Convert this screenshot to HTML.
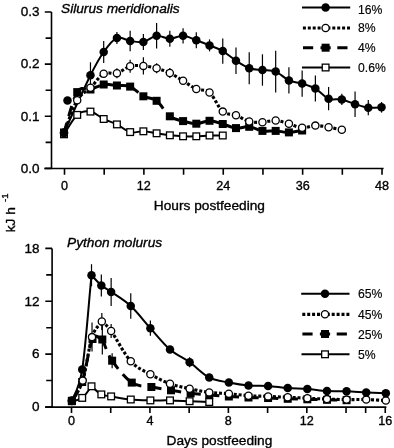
<!DOCTYPE html>
<html><head><meta charset="utf-8"><title>Figure</title><style>html,body{margin:0;padding:0;background:#fff;width:394px;height:448px;overflow:hidden}svg{display:block}</style></head><body>
<svg width="394" height="448" viewBox="0 0 394 448">
<style>text{font-family:"Liberation Sans", Arial, Helvetica, sans-serif;fill:#000;stroke:#000;stroke-width:0.35px}.ax{stroke:#000;stroke-width:1.6;fill:none;stroke-linecap:butt}.ln{stroke:#000;stroke-width:2.0;fill:none;stroke-linejoin:round}.dot{stroke:#000;stroke-width:3.1;fill:none;stroke-dasharray:3 1.9}.dash{stroke:#000;stroke-width:3.0;fill:none;stroke-dasharray:10.2 7}.err{stroke:#000;stroke-width:1.2}.fc{fill:#000}.oc{fill:#fff;stroke:#000;stroke-width:1.3}.fs{fill:#000}.os{fill:#fff;stroke:#000;stroke-width:1.3}</style>
<rect width="394" height="448" fill="#fff"/>
<path class="ax" d="M51.5 12 V168.55 M44.3 168.55 H383.6"/>
<path class="ax" d="M44.8 12.01 H51.5 M44.8 64.14 H51.5 M44.8 116.27 H51.5 M44.8 168.4 H51.5 M45.6 38.08 H51.5 M45.6 90.21 H51.5 M45.6 142.34 H51.5 M64.5 168.55 V174.65 M104.19 168.55 V174.65 M143.88 168.55 V174.65 M183.57 168.55 V174.65 M223.26 168.55 V174.65 M262.95 168.55 V174.65 M302.64 168.55 V174.65 M342.33 168.55 V174.65 M382.02 168.55 V174.65 "/>
<text x="39.6" y="16.31" text-anchor="end" font-size="13.5">0.3</text>
<text x="39.6" y="68.44" text-anchor="end" font-size="13.5">0.2</text>
<text x="39.6" y="120.57" text-anchor="end" font-size="13.5">0.1</text>
<text x="39.6" y="172.7" text-anchor="end" font-size="13.5">0.0</text>
<text x="64.5" y="189.8" text-anchor="middle" font-size="12.6">0</text>
<text x="143.88" y="189.8" text-anchor="middle" font-size="12.6">12</text>
<text x="223.26" y="189.8" text-anchor="middle" font-size="12.6">24</text>
<text x="302.64" y="189.8" text-anchor="middle" font-size="12.6">36</text>
<text x="382.02" y="189.8" text-anchor="middle" font-size="12.6">48</text>
<text x="209.4" y="210.4" text-anchor="middle" font-size="13.7">Hours postfeeding</text>
<text x="61" y="12.5" text-anchor="start" font-size="13.7" font-style="italic">Silurus meridionalis</text>
<path class="ln" d="M64 134.3 C66.2 131.07 72.82 118.68 77.23 114.9 C81.64 111.12 86.05 110.92 90.46 111.6 C94.87 112.28 99.28 116.87 103.69 119 C108.1 121.13 112.51 122.22 116.92 124.4 C121.33 126.58 125.74 130.95 130.15 132.1 C134.56 133.25 138.97 131.1 143.38 131.3 C147.79 131.5 152.2 132.63 156.61 133.3 C161.02 133.97 165.43 134.8 169.84 135.3 C174.25 135.8 178.66 136.13 183.07 136.3 C187.48 136.47 191.89 136.43 196.3 136.3 C200.71 136.17 205.12 135.63 209.53 135.5 C213.94 135.37 220.56 135.5 222.76 135.5"/>
<path class="dash" d="M64 132.5 C66.2 125.77 72.82 99.27 77.23 92.1"/>
<path class="dash" d="M77.23 92.1 C81.64 84.93 86.05 90.77 90.46 89.5"/>
<path class="dash" d="M90.46 89.5 C94.87 88.23 99.28 85.17 103.69 84.5"/>
<path class="dash" d="M103.69 84.5 C108.1 83.83 112.51 85.15 116.92 85.5"/>
<path class="dash" d="M116.92 85.5 C121.33 85.85 125.74 84.8 130.15 86.6"/>
<path class="dash" d="M130.15 86.6 C134.56 88.4 138.97 93.93 143.38 96.3"/>
<path class="dash" d="M143.38 96.3 C147.79 98.67 152.2 97.47 156.61 100.8"/>
<path class="dash" d="M156.61 100.8 C161.02 104.13 165.43 112.92 169.84 116.3"/>
<path class="dash" d="M169.84 116.3 C174.25 119.68 178.66 119.87 183.07 121.1"/>
<path class="dash" d="M183.07 121.1 C187.48 122.33 191.89 123.75 196.3 123.7"/>
<path class="dash" d="M196.3 123.7 C200.71 123.65 205.12 120.75 209.53 120.8"/>
<path class="dash" d="M209.53 120.8 C213.94 120.85 218.35 122.78 222.76 124"/>
<path class="dash" d="M222.76 124 C227.17 125.22 231.58 127.63 235.99 128.1"/>
<path class="dash" d="M235.99 128.1 C240.4 128.57 244.81 126.33 249.22 126.8"/>
<path class="dash" d="M249.22 126.8 C253.63 127.27 258.04 130.22 262.45 130.9"/>
<path class="dash" d="M262.45 130.9 C266.86 131.58 271.27 130.65 275.68 130.9"/>
<path class="dash" d="M275.68 130.9 C280.09 131.15 284.5 132.47 288.91 132.4"/>
<path class="dash" d="M288.91 132.4 C293.32 132.33 299.94 130.82 302.14 130.5"/>
<path class="dot" d="M64 133 C66.2 127.53 72.82 107.75 77.23 100.2"/>
<path class="dot" d="M77.23 100.2 C81.64 92.65 86.05 92.1 90.46 87.7"/>
<path class="dot" d="M90.46 87.7 C94.87 83.3 99.28 76.22 103.69 73.8"/>
<path class="dot" d="M103.69 73.8 C108.1 71.38 112.51 74.45 116.92 73.2"/>
<path class="dot" d="M116.92 73.2 C121.33 71.95 125.74 67.52 130.15 66.3"/>
<path class="dot" d="M130.15 66.3 C134.56 65.08 138.97 65.57 143.38 65.9"/>
<path class="dot" d="M143.38 65.9 C147.79 66.23 152.2 67.12 156.61 68.3"/>
<path class="dot" d="M156.61 68.3 C161.02 69.48 165.43 70.92 169.84 73"/>
<path class="dot" d="M169.84 73 C174.25 75.08 178.66 78.13 183.07 80.8"/>
<path class="dot" d="M183.07 80.8 C187.48 83.47 191.89 87.05 196.3 89"/>
<path class="dot" d="M196.3 89 C200.71 90.95 205.12 88.73 209.53 92.5"/>
<path class="dot" d="M209.53 92.5 C213.94 96.27 218.35 107.82 222.76 111.6"/>
<path class="dot" d="M222.76 111.6 C227.17 115.38 231.58 113.55 235.99 115.2"/>
<path class="dot" d="M235.99 115.2 C240.4 116.85 244.81 120.33 249.22 121.5"/>
<path class="dot" d="M249.22 121.5 C253.63 122.67 258.04 122.37 262.45 122.2"/>
<path class="dot" d="M262.45 122.2 C266.86 122.03 271.27 120.23 275.68 120.5"/>
<path class="dot" d="M275.68 120.5 C280.09 120.77 284.5 122.58 288.91 123.8"/>
<path class="dot" d="M288.91 123.8 C293.32 125.02 297.73 127.5 302.14 127.8"/>
<path class="dot" d="M302.14 127.8 C306.55 128.1 310.96 125.7 315.37 125.6"/>
<path class="dot" d="M315.37 125.6 C319.78 125.5 324.19 126.5 328.6 127.2"/>
<path class="dot" d="M328.6 127.2 C333.01 127.9 339.62 129.37 341.83 129.8"/>
<path class="ln" d="M64 132.5 C68.41 122.97 83.85 88.72 90.46 75.3 C97.08 61.88 99.28 58.23 103.69 52 C108.1 45.77 112.51 39.73 116.92 37.9 C121.33 36.07 125.74 40.33 130.15 41 C134.56 41.67 138.97 42.77 143.38 41.9 C147.79 41.03 152.2 36.33 156.61 35.8 C161.02 35.27 165.43 38.7 169.84 38.7 C174.25 38.7 178.66 35.53 183.07 35.8 C187.48 36.07 191.89 38.7 196.3 40.3 C200.71 41.9 205.12 43.6 209.53 45.4 C213.94 47.2 218.35 48.55 222.76 51.1 C227.17 53.65 231.58 57.85 235.99 60.7 C240.4 63.55 244.81 66.65 249.22 68.2 C253.63 69.75 258.04 69.43 262.45 70 C266.86 70.57 271.27 69.87 275.68 71.6 C280.09 73.33 284.5 78.4 288.91 80.4 C293.32 82.4 297.73 82.23 302.14 83.6 C306.55 84.97 310.96 86.08 315.37 88.6 C319.78 91.12 324.19 96.9 328.6 98.7 C333.01 100.5 337.42 98.48 341.83 99.4 C346.24 100.32 350.65 102.82 355.06 104.2 C359.47 105.58 363.88 107.18 368.29 107.7 C372.7 108.22 379.31 107.37 381.52 107.3"/>
<line class="err" x1="90.46" y1="62.3" x2="90.46" y2="88.3"/>
<line class="err" x1="103.69" y1="41" x2="103.69" y2="63"/>
<line class="err" x1="116.92" y1="31.9" x2="116.92" y2="43.9"/>
<line class="err" x1="130.15" y1="30.7" x2="130.15" y2="51.3"/>
<line class="err" x1="143.38" y1="33.9" x2="143.38" y2="49.9"/>
<line class="err" x1="156.61" y1="23.1" x2="156.61" y2="48.5"/>
<line class="err" x1="169.84" y1="30.7" x2="169.84" y2="46.7"/>
<line class="err" x1="183.07" y1="28.2" x2="183.07" y2="43.4"/>
<line class="err" x1="196.3" y1="32.3" x2="196.3" y2="48.3"/>
<line class="err" x1="209.53" y1="39.4" x2="209.53" y2="51.4"/>
<line class="err" x1="222.76" y1="38.4" x2="222.76" y2="63.8"/>
<line class="err" x1="235.99" y1="47.5" x2="235.99" y2="73.9"/>
<line class="err" x1="249.22" y1="52.2" x2="249.22" y2="84.2"/>
<line class="err" x1="262.45" y1="54.3" x2="262.45" y2="85.7"/>
<line class="err" x1="275.68" y1="50.8" x2="275.68" y2="92.4"/>
<line class="err" x1="288.91" y1="67.2" x2="288.91" y2="93.6"/>
<line class="err" x1="302.14" y1="70.4" x2="302.14" y2="96.8"/>
<line class="err" x1="315.37" y1="75.6" x2="315.37" y2="101.6"/>
<line class="err" x1="328.6" y1="87.1" x2="328.6" y2="110.3"/>
<line class="err" x1="341.83" y1="93.8" x2="341.83" y2="105"/>
<line class="err" x1="355.06" y1="91.4" x2="355.06" y2="117"/>
<line class="err" x1="368.29" y1="100.1" x2="368.29" y2="115.3"/>
<line class="err" x1="381.52" y1="102" x2="381.52" y2="112.6"/>
<line class="err" x1="116.92" y1="68.2" x2="116.92" y2="78.2"/>
<line class="err" x1="130.15" y1="59.8" x2="130.15" y2="72.8"/>
<line class="err" x1="143.38" y1="57.3" x2="143.38" y2="74.5"/>
<line class="err" x1="156.61" y1="63.3" x2="156.61" y2="73.3"/>
<line class="err" x1="169.84" y1="68" x2="169.84" y2="78"/>
<rect class="os" x="60.65" y="130.95" width="6.7" height="6.7"/>
<rect class="os" x="73.88" y="111.55" width="6.7" height="6.7"/>
<rect class="os" x="87.11" y="108.25" width="6.7" height="6.7"/>
<rect class="os" x="100.34" y="115.65" width="6.7" height="6.7"/>
<rect class="os" x="113.57" y="121.05" width="6.7" height="6.7"/>
<rect class="os" x="126.8" y="128.75" width="6.7" height="6.7"/>
<rect class="os" x="140.03" y="127.95" width="6.7" height="6.7"/>
<rect class="os" x="153.26" y="129.95" width="6.7" height="6.7"/>
<rect class="os" x="166.49" y="131.95" width="6.7" height="6.7"/>
<rect class="os" x="179.72" y="132.95" width="6.7" height="6.7"/>
<rect class="os" x="192.95" y="132.95" width="6.7" height="6.7"/>
<rect class="os" x="206.18" y="132.15" width="6.7" height="6.7"/>
<rect class="os" x="219.41" y="132.15" width="6.7" height="6.7"/>
<rect class="fs" x="60" y="128.5" width="8" height="8"/>
<rect class="fs" x="73.23" y="88.1" width="8" height="8"/>
<rect class="fs" x="86.46" y="85.5" width="8" height="8"/>
<rect class="fs" x="99.69" y="80.5" width="8" height="8"/>
<rect class="fs" x="112.92" y="81.5" width="8" height="8"/>
<rect class="fs" x="126.15" y="82.6" width="8" height="8"/>
<rect class="fs" x="139.38" y="92.3" width="8" height="8"/>
<rect class="fs" x="152.61" y="96.8" width="8" height="8"/>
<rect class="fs" x="165.84" y="112.3" width="8" height="8"/>
<rect class="fs" x="179.07" y="117.1" width="8" height="8"/>
<rect class="fs" x="192.3" y="119.7" width="8" height="8"/>
<rect class="fs" x="205.53" y="116.8" width="8" height="8"/>
<rect class="fs" x="218.76" y="120" width="8" height="8"/>
<rect class="fs" x="231.99" y="124.1" width="8" height="8"/>
<rect class="fs" x="245.22" y="122.8" width="8" height="8"/>
<rect class="fs" x="258.45" y="126.9" width="8" height="8"/>
<rect class="fs" x="271.68" y="126.9" width="8" height="8"/>
<rect class="fs" x="284.91" y="128.4" width="8" height="8"/>
<rect class="fs" x="298.14" y="126.5" width="8" height="8"/>
<circle class="oc" cx="64" cy="133" r="3.6"/>
<circle class="oc" cx="77.23" cy="100.2" r="3.6"/>
<circle class="oc" cx="90.46" cy="87.7" r="3.6"/>
<circle class="oc" cx="103.69" cy="73.8" r="3.6"/>
<circle class="oc" cx="116.92" cy="73.2" r="3.6"/>
<circle class="oc" cx="130.15" cy="66.3" r="3.6"/>
<circle class="oc" cx="143.38" cy="65.9" r="3.6"/>
<circle class="oc" cx="156.61" cy="68.3" r="3.6"/>
<circle class="oc" cx="169.84" cy="73" r="3.6"/>
<circle class="oc" cx="183.07" cy="80.8" r="3.6"/>
<circle class="oc" cx="196.3" cy="89" r="3.6"/>
<circle class="oc" cx="209.53" cy="92.5" r="3.6"/>
<circle class="oc" cx="222.76" cy="111.6" r="3.6"/>
<circle class="oc" cx="235.99" cy="115.2" r="3.6"/>
<circle class="oc" cx="249.22" cy="121.5" r="3.6"/>
<circle class="oc" cx="262.45" cy="122.2" r="3.6"/>
<circle class="oc" cx="275.68" cy="120.5" r="3.6"/>
<circle class="oc" cx="288.91" cy="123.8" r="3.6"/>
<circle class="oc" cx="302.14" cy="127.8" r="3.6"/>
<circle class="oc" cx="315.37" cy="125.6" r="3.6"/>
<circle class="oc" cx="328.6" cy="127.2" r="3.6"/>
<circle class="oc" cx="341.83" cy="129.8" r="3.6"/>
<circle class="fc" cx="64" cy="132.5" r="4.25"/>
<circle class="fc" cx="90.46" cy="75.3" r="4.25"/>
<circle class="fc" cx="103.69" cy="52" r="4.25"/>
<circle class="fc" cx="116.92" cy="37.9" r="4.25"/>
<circle class="fc" cx="130.15" cy="41" r="4.25"/>
<circle class="fc" cx="143.38" cy="41.9" r="4.25"/>
<circle class="fc" cx="156.61" cy="35.8" r="4.25"/>
<circle class="fc" cx="169.84" cy="38.7" r="4.25"/>
<circle class="fc" cx="183.07" cy="35.8" r="4.25"/>
<circle class="fc" cx="196.3" cy="40.3" r="4.25"/>
<circle class="fc" cx="209.53" cy="45.4" r="4.25"/>
<circle class="fc" cx="222.76" cy="51.1" r="4.25"/>
<circle class="fc" cx="235.99" cy="60.7" r="4.25"/>
<circle class="fc" cx="249.22" cy="68.2" r="4.25"/>
<circle class="fc" cx="262.45" cy="70" r="4.25"/>
<circle class="fc" cx="275.68" cy="71.6" r="4.25"/>
<circle class="fc" cx="288.91" cy="80.4" r="4.25"/>
<circle class="fc" cx="302.14" cy="83.6" r="4.25"/>
<circle class="fc" cx="315.37" cy="88.6" r="4.25"/>
<circle class="fc" cx="328.6" cy="98.7" r="4.25"/>
<circle class="fc" cx="341.83" cy="99.4" r="4.25"/>
<circle class="fc" cx="355.06" cy="104.2" r="4.25"/>
<circle class="fc" cx="368.29" cy="107.7" r="4.25"/>
<circle class="fc" cx="381.52" cy="107.3" r="4.25"/>
<circle class="fc" cx="67.5" cy="100.6" r="4.25"/>
<path class="ln" d="M302 7.5 H350.2"/>
<circle class="fc" cx="325.6" cy="7.5" r="4.25"/>
<path d="M302.9 26.4 h3 v3.2 h-3 z M307.8 26.4 h3 v3.2 h-3 z M312.7 26.4 h3 v3.2 h-3 z M317.6 26.4 h3 v3.2 h-3 z M322.5 26.4 h3 v3.2 h-3 z M327.4 26.4 h3 v3.2 h-3 z M332.3 26.4 h3 v3.2 h-3 z M337.2 26.4 h3 v3.2 h-3 z M342.1 26.4 h3 v3.2 h-3 z M347 26.4 h3 v3.2 h-3 z " fill="#000"/>
<circle class="oc" cx="325.6" cy="28" r="3.6"/>
<path d="M303 47.7 H313.2 M320.5 47.7 H330.7 M337.3 47.7 H347.5 " stroke="#000" stroke-width="3.1" fill="none"/>
<rect class="fs" x="321.6" y="43.7" width="8" height="8"/>
<path class="ln" d="M302 67.5 H350.2"/>
<rect class="os" x="322.25" y="64.15" width="6.7" height="6.7"/>
<text x="358" y="14.1" text-anchor="start" font-size="12.2" style="stroke-width:0.15px">16%</text>
<text x="358" y="32.4" text-anchor="start" font-size="12.2" style="stroke-width:0.15px">8%</text>
<text x="358" y="52" text-anchor="start" font-size="12.2" style="stroke-width:0.15px">4%</text>
<text x="358" y="72" text-anchor="start" font-size="12.2" style="stroke-width:0.15px">0.6%</text>
<path class="ax" d="M52.1 248.4 V407.1 M45.1 407.1 H386.4"/>
<path class="ax" d="M45.3 248.42 H52.1 M45.3 301.28 H52.1 M45.3 354.14 H52.1 M45.3 407 H52.1 M46.2 274.85 H52.1 M46.2 327.71 H52.1 M46.2 380.57 H52.1 M71.5 407.1 V412.9 M110.72 407.1 V412.9 M149.94 407.1 V412.9 M189.16 407.1 V412.9 M228.38 407.1 V412.9 M267.6 407.1 V412.9 M306.82 407.1 V412.9 M346.04 407.1 V412.9 M385.26 407.1 V412.9 M365.65 407.1 V412.9 "/>
<text x="39.6" y="252.72" text-anchor="end" font-size="13.5">18</text>
<text x="39.6" y="305.58" text-anchor="end" font-size="13.5">12</text>
<text x="39.6" y="358.44" text-anchor="end" font-size="13.5">6</text>
<text x="39.6" y="411.3" text-anchor="end" font-size="13.5">0</text>
<text x="71.5" y="424.9" text-anchor="middle" font-size="12.6">0</text>
<text x="149.94" y="424.9" text-anchor="middle" font-size="12.6">4</text>
<text x="228.38" y="424.9" text-anchor="middle" font-size="12.6">8</text>
<text x="306.82" y="424.9" text-anchor="middle" font-size="12.6">12</text>
<text x="385.26" y="424.9" text-anchor="middle" font-size="12.6">16</text>
<text x="219.4" y="444.8" text-anchor="middle" font-size="13.7">Days postfeeding</text>
<text x="67" y="247.3" text-anchor="start" font-size="13.7" font-style="italic">Python molurus</text>
<path class="ln" d="M71.9 401.2 C73.62 400.65 78.94 400.38 82.21 397.9 C85.48 395.42 88.42 390.17 91.52 386.3 C94.79 389 98.06 392.72 101.33 394.4 C104.6 396.08 106.24 395.55 111.14 396.4 C116.05 397.25 124.22 398.83 130.76 399.5 C137.3 400.17 143.84 400.25 150.38 400.4 C156.92 400.55 163.46 400.27 170 400.4 C176.54 400.53 183.08 400.93 189.62 401.2 C196.16 401.47 205.97 401.87 209.24 402"/>
<path class="dash" d="M71.9 400.8 C73.62 397.67 78.77 392.3 82.21 382"/>
<path class="dash" d="M82.21 382 C85.65 371.7 89.17 346.08 92.52 339"/>
<path class="dash" d="M92.52 339 C95.87 331.92 99.06 339.33 102.33 339.5"/>
<path class="dash" d="M102.33 339.5 C105.6 346.57 107.24 353.52 112.14 360.7"/>
<path class="dash" d="M112.14 360.7 C117.05 367.88 125.22 378.22 131.76 382.6"/>
<path class="dash" d="M131.76 382.6 C138.3 386.98 144.84 385.72 151.38 387"/>
<path class="dash" d="M151.38 387 C157.92 388.28 164.46 389.25 171 390.3"/>
<path class="dash" d="M171 390.3 C177.54 391.35 184.25 392.52 190.62 393.3"/>
<path class="dash" d="M190.62 393.3 C196.99 394.08 202.87 394.47 209.24 395"/>
<path class="dash" d="M209.24 395 C215.61 395.53 222.32 396.08 228.86 396.5"/>
<path class="dash" d="M228.86 396.5 C235.4 396.92 241.94 397.25 248.48 397.5"/>
<path class="dash" d="M248.48 397.5 C255.02 397.75 261.56 397.78 268.1 398"/>
<path class="dash" d="M268.1 398 C274.64 398.22 281.18 398.58 287.72 398.8"/>
<path class="dash" d="M287.72 398.8 C294.26 399.02 300.8 399.13 307.34 399.3"/>
<path class="dash" d="M307.34 399.3 C313.88 399.47 320.42 399.65 326.96 399.8"/>
<path class="dash" d="M326.96 399.8 C333.5 399.95 343.31 400.13 346.58 400.2"/>
<path class="dot" d="M71.9 401 C73.7 397.6 79.36 391.25 82.71 380.6"/>
<path class="dot" d="M82.71 380.6 C86.06 369.95 88.83 346.97 92.02 337.1"/>
<path class="dot" d="M92.02 337.1 C95.21 327.23 98.56 326.63 101.83 321.4"/>
<path class="dot" d="M101.83 321.4 C104.93 324.6 106.32 324.35 111.14 331"/>
<path class="dot" d="M111.14 331 C115.96 337.65 124.22 354.08 130.76 361.3"/>
<path class="dot" d="M130.76 361.3 C137.3 368.52 143.84 370.57 150.38 374.3"/>
<path class="dot" d="M150.38 374.3 C156.92 378.03 163.46 381.3 170 383.7"/>
<path class="dot" d="M170 383.7 C176.54 386.1 183.08 387.25 189.62 388.7"/>
<path class="dot" d="M189.62 388.7 C196.16 390.15 202.7 391.57 209.24 392.4"/>
<path class="dot" d="M209.24 392.4 C215.78 393.23 222.32 393.15 228.86 393.7"/>
<path class="dot" d="M228.86 393.7 C235.4 394.25 241.94 395.25 248.48 395.7"/>
<path class="dot" d="M248.48 395.7 C255.02 396.15 261.56 396.13 268.1 396.4"/>
<path class="dot" d="M268.1 396.4 C274.64 396.67 281.18 397 287.72 397.3"/>
<path class="dot" d="M287.72 397.3 C294.26 397.6 300.8 397.9 307.34 398.2"/>
<path class="dot" d="M307.34 398.2 C313.88 398.5 320.42 398.87 326.96 399.1"/>
<path class="dot" d="M326.96 399.1 C333.5 399.33 340.04 399.52 346.58 399.6"/>
<path class="dot" d="M346.58 399.6 C353.12 399.68 359.66 399.45 366.2 399.6"/>
<path class="dot" d="M366.2 399.6 C372.74 399.75 382.55 400.35 385.82 400.5"/>
<path class="ln" d="M71.9 400.5 C73.62 395.32 78.94 390.28 82.21 369.4 C85.48 348.52 88.42 306.6 91.52 275.2 C94.79 278.6 98.06 282.62 101.33 285.4 C104.6 288.18 106.24 288.47 111.14 291.9 C116.05 295.33 124.22 299.95 130.76 306 C137.3 312.05 143.84 320.95 150.38 328.2 C156.92 335.45 163.46 343.83 170 349.5 C176.54 355.17 183.08 357.53 189.62 362.2 C196.16 366.87 202.7 374.12 209.24 377.5 C215.78 380.88 222.32 381.17 228.86 382.5 C235.4 383.83 241.94 384.92 248.48 385.5 C255.02 386.08 261.56 385.57 268.1 386 C274.64 386.43 281.18 387.62 287.72 388.1 C294.26 388.58 300.8 388.42 307.34 388.9 C313.88 389.38 320.42 390.62 326.96 391 C333.5 391.38 340.04 390.97 346.58 391.2 C353.12 391.43 359.66 392.05 366.2 392.4 C372.74 392.75 382.55 393.15 385.82 393.3"/>
<line class="err" x1="91.52" y1="264.2" x2="91.52" y2="286.2"/>
<line class="err" x1="101.33" y1="274.4" x2="101.33" y2="296.4"/>
<line class="err" x1="111.14" y1="277.9" x2="111.14" y2="305.9"/>
<line class="err" x1="130.76" y1="293.3" x2="130.76" y2="318.7"/>
<line class="err" x1="150.38" y1="320.6" x2="150.38" y2="335.8"/>
<line class="err" x1="170" y1="346.5" x2="170" y2="352.5"/>
<line class="err" x1="189.62" y1="357.2" x2="189.62" y2="367.2"/>
<line class="err" x1="92.02" y1="322.6" x2="92.02" y2="351.6"/>
<line class="err" x1="101.83" y1="312.9" x2="101.83" y2="329.9"/>
<line class="err" x1="111.14" y1="324" x2="111.14" y2="338"/>
<line class="err" x1="102.33" y1="324.5" x2="102.33" y2="354.5"/>
<line class="err" x1="112.14" y1="353.2" x2="112.14" y2="368.2"/>
<rect class="os" x="68.55" y="397.85" width="6.7" height="6.7"/>
<rect class="os" x="78.86" y="394.55" width="6.7" height="6.7"/>
<rect class="os" x="88.17" y="382.95" width="6.7" height="6.7"/>
<rect class="os" x="97.98" y="391.05" width="6.7" height="6.7"/>
<rect class="os" x="107.79" y="393.05" width="6.7" height="6.7"/>
<rect class="os" x="127.41" y="396.15" width="6.7" height="6.7"/>
<rect class="os" x="147.03" y="397.05" width="6.7" height="6.7"/>
<rect class="os" x="166.65" y="397.05" width="6.7" height="6.7"/>
<rect class="os" x="186.27" y="397.85" width="6.7" height="6.7"/>
<rect class="os" x="205.89" y="398.65" width="6.7" height="6.7"/>
<rect class="fs" x="67.9" y="396.8" width="8" height="8"/>
<rect class="fs" x="78.21" y="378" width="8" height="8"/>
<rect class="fs" x="88.52" y="335" width="8" height="8"/>
<rect class="fs" x="98.33" y="335.5" width="8" height="8"/>
<rect class="fs" x="108.14" y="356.7" width="8" height="8"/>
<rect class="fs" x="127.76" y="378.6" width="8" height="8"/>
<rect class="fs" x="147.38" y="383" width="8" height="8"/>
<rect class="fs" x="167" y="386.3" width="8" height="8"/>
<rect class="fs" x="186.62" y="389.3" width="8" height="8"/>
<rect class="fs" x="205.24" y="391" width="8" height="8"/>
<rect class="fs" x="224.86" y="392.5" width="8" height="8"/>
<rect class="fs" x="244.48" y="393.5" width="8" height="8"/>
<rect class="fs" x="264.1" y="394" width="8" height="8"/>
<rect class="fs" x="283.72" y="394.8" width="8" height="8"/>
<rect class="fs" x="303.34" y="395.3" width="8" height="8"/>
<rect class="fs" x="322.96" y="395.8" width="8" height="8"/>
<rect class="fs" x="342.58" y="396.2" width="8" height="8"/>
<circle class="oc" cx="71.9" cy="401" r="3.6"/>
<circle class="oc" cx="82.71" cy="380.6" r="3.6"/>
<circle class="oc" cx="92.02" cy="337.1" r="3.6"/>
<circle class="oc" cx="101.83" cy="321.4" r="3.6"/>
<circle class="oc" cx="111.14" cy="331" r="3.6"/>
<circle class="oc" cx="130.76" cy="361.3" r="3.6"/>
<circle class="oc" cx="150.38" cy="374.3" r="3.6"/>
<circle class="oc" cx="170" cy="383.7" r="3.6"/>
<circle class="oc" cx="189.62" cy="388.7" r="3.6"/>
<circle class="oc" cx="209.24" cy="392.4" r="3.6"/>
<circle class="oc" cx="228.86" cy="393.7" r="3.6"/>
<circle class="oc" cx="248.48" cy="395.7" r="3.6"/>
<circle class="oc" cx="268.1" cy="396.4" r="3.6"/>
<circle class="oc" cx="287.72" cy="397.3" r="3.6"/>
<circle class="oc" cx="307.34" cy="398.2" r="3.6"/>
<circle class="oc" cx="326.96" cy="399.1" r="3.6"/>
<circle class="oc" cx="346.58" cy="399.6" r="3.6"/>
<circle class="oc" cx="366.2" cy="399.6" r="3.6"/>
<circle class="oc" cx="385.82" cy="400.5" r="3.6"/>
<circle class="fc" cx="71.9" cy="400.5" r="4.25"/>
<circle class="fc" cx="82.21" cy="369.4" r="4.25"/>
<circle class="fc" cx="91.52" cy="275.2" r="4.25"/>
<circle class="fc" cx="101.33" cy="285.4" r="4.25"/>
<circle class="fc" cx="111.14" cy="291.9" r="4.25"/>
<circle class="fc" cx="130.76" cy="306" r="4.25"/>
<circle class="fc" cx="150.38" cy="328.2" r="4.25"/>
<circle class="fc" cx="170" cy="349.5" r="4.25"/>
<circle class="fc" cx="189.62" cy="362.2" r="4.25"/>
<circle class="fc" cx="209.24" cy="377.5" r="4.25"/>
<circle class="fc" cx="228.86" cy="382.5" r="4.25"/>
<circle class="fc" cx="248.48" cy="385.5" r="4.25"/>
<circle class="fc" cx="268.1" cy="386" r="4.25"/>
<circle class="fc" cx="287.72" cy="388.1" r="4.25"/>
<circle class="fc" cx="307.34" cy="388.9" r="4.25"/>
<circle class="fc" cx="326.96" cy="391" r="4.25"/>
<circle class="fc" cx="346.58" cy="391.2" r="4.25"/>
<circle class="fc" cx="366.2" cy="392.4" r="4.25"/>
<circle class="fc" cx="385.82" cy="393.3" r="4.25"/>
<path class="ln" d="M301.2 293.8 H349.5"/>
<circle class="fc" cx="325" cy="293.8" r="4.25"/>
<path d="M302.3 312.7 h3 v3.2 h-3 z M307.2 312.7 h3 v3.2 h-3 z M312.1 312.7 h3 v3.2 h-3 z M317 312.7 h3 v3.2 h-3 z M321.9 312.7 h3 v3.2 h-3 z M326.8 312.7 h3 v3.2 h-3 z M331.7 312.7 h3 v3.2 h-3 z M336.6 312.7 h3 v3.2 h-3 z M341.5 312.7 h3 v3.2 h-3 z M346.4 312.7 h3 v3.2 h-3 z " fill="#000"/>
<circle class="oc" cx="325" cy="314.3" r="3.6"/>
<path d="M302.4 334 H312.6 M319.9 334 H330.1 M336.7 334 H346.9 " stroke="#000" stroke-width="3.1" fill="none"/>
<rect class="fs" x="321" y="330" width="8" height="8"/>
<path class="ln" d="M301.5 354.3 H349.5"/>
<rect class="os" x="321.65" y="350.95" width="6.7" height="6.7"/>
<text x="358" y="298.3" text-anchor="start" font-size="12.2" style="stroke-width:0.15px">65%</text>
<text x="358" y="318.8" text-anchor="start" font-size="12.2" style="stroke-width:0.15px">45%</text>
<text x="358" y="339.3" text-anchor="start" font-size="12.2" style="stroke-width:0.15px">25%</text>
<text x="358" y="358.8" text-anchor="start" font-size="12.2" style="stroke-width:0.15px">5%</text>
<text transform="translate(15.3 232.3) rotate(-90)" font-size="13.7">kJ h<tspan dx="5.3" dy="-7.2" font-size="9.5">-1</tspan></text>
</svg>
</body></html>
